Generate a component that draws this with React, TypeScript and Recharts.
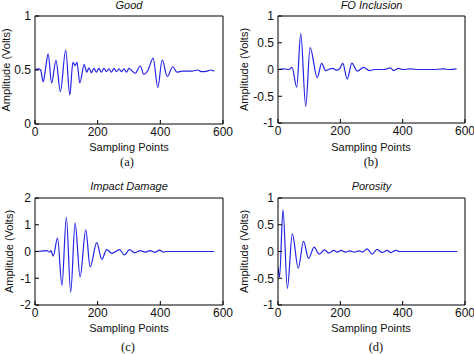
import React from 'react';
import { LineChart, Line, XAxis, YAxis } from 'recharts';

// ---------- data ----------
const goodSamples = [0, 10, 18, 26, 34, 42, 53, 67, 81, 98, 111, 121, 128, 134, 143, 157, 165, 172, 180, 188, 196, 204, 212, 220, 228, 236, 244, 252, 260, 268, 276, 284, 292, 300, 310, 320, 336, 347, 361, 377, 392, 406, 422, 440, 453, 470, 500, 520, 530, 550, 560, 572];
const goodAmplitude = [0.5, 0.51, 0.5, 0.39, 0.52, 0.65, 0.38, 0.59, 0.3, 0.685, 0.27, 0.57, 0.54, 0.57, 0.38, 0.55, 0.48, 0.52, 0.475, 0.515, 0.48, 0.515, 0.48, 0.515, 0.485, 0.51, 0.48, 0.515, 0.485, 0.51, 0.485, 0.51, 0.48, 0.515, 0.49, 0.47, 0.537, 0.46, 0.5, 0.61, 0.34, 0.595, 0.44, 0.53, 0.48, 0.49, 0.49, 0.5, 0.485, 0.49, 0.5, 0.49];

const foSamples = [0, 20, 35, 45, 60, 73, 89, 103, 126, 140, 153, 166, 176, 187, 197, 208, 222, 237, 254, 275, 293, 310, 340, 360, 371, 387, 400, 424, 450, 500, 531, 550, 573];
const foAmplitude = [0, 0.01, 0, 0.04, -0.33, 0.67, -0.69, 0.41, -0.15, 0.115, -0.02, 0.01, 0.02, -0.01, 0.01, 0.115, -0.18, 0.12, -0.03, 0.04, -0.02, 0, 0, 0.03, -0.02, 0.02, 0, 0.01, 0, 0, 0.01, 0, 0.01];

const impactSamples = [0, 15, 25, 37, 46, 51, 58, 72, 86, 100, 114, 128, 144, 162, 176, 197, 213, 229, 245, 270, 285, 302, 318, 336, 352, 368, 383, 397, 409, 420, 500, 572];
const impactAmplitude = [0, 0.01, 0.02, 0.03, -0.02, 0.03, -0.17, 0.5, -1.27, 1.28, -1.52, 1.07, -0.95, 0.81, -0.58, 0.33, -0.29, 0.07, -0.07, 0.07, -0.13, 0.07, -0.05, 0.03, -0.02, 0.03, -0.03, 0.05, -0.02, 0, 0, 0];

const porositySamples = [0, 5, 16, 30, 46, 65, 82, 98, 116, 132, 149, 163, 179, 190, 203, 216, 230, 245, 260, 272, 286, 302, 318, 334, 350, 362, 378, 390, 450, 575];
const porosityAmplitude = [-0.3, -0.48, 0.78, -0.69, 0.33, -0.31, 0.19, -0.13, 0.08, -0.05, 0.03, -0.03, 0.02, -0.01, 0.02, -0.01, 0.01, -0.01, 0.01, -0.01, 0.05, -0.05, 0.04, -0.02, 0.02, -0.02, 0.02, 0, 0, 0];

const xTicks = [0, 200, 400, 600];
const goodTicks = [0, 0.5, 1];
const foTicks = [-1, -0.5, 0, 0.5, 1];
const impactTicks = [-2, -1, 0, 1, 2];
const porosityTicks = [-1, -0.5, 0, 0.5, 1];

const titles = ['Good', 'FO Inclusion', 'Impact Damage', 'Porosity'];
const captions = ['(a)', '(b)', '(c)', '(d)'];
const xLabel = 'Sampling Points';
const yLabel = 'Amplitude (Volts)';

// ---------- layout ----------
const SANS = '"Liberation Sans", Arial, sans-serif';
const SERIF = '"Liberation Serif", "Times New Roman", serif';
const LINE = '#2424e6';
const CW = 237;
const CH = 177;
const XH = 20;
const YW = 30;

type Panel = {
  samples: number[];
  values: number[];
  yTicks: number[];
  ox: number; oy: number;
  l: number; r: number; t: number; b: number;
  title: [number, number];
  xl: [number, number];
  cap: [number, number];
  yl: [number, number];
};

const panels: Panel[] = [
  { samples: goodSamples, values: goodAmplitude, yTicks: goodTicks, ox: 0, oy: 0, l: 35, r: 223, t: 16, b: 124, title: [129, 8.5], xl: [129, 150.5], cap: [127, 166], yl: [9.5, 70] },
  { samples: foSamples, values: foAmplitude, yTicks: foTicks, ox: 237, oy: 0, l: 278, r: 465, t: 16, b: 123, title: [371.5, 8.5], xl: [371, 150.5], cap: [371, 166], yl: [248, 69.5] },
  { samples: impactSamples, values: impactAmplitude, yTicks: impactTicks, ox: 0, oy: 177, l: 35, r: 223, t: 198, b: 305, title: [129, 189.5], xl: [129, 331.5], cap: [128, 351], yl: [12.5, 251.5] },
  { samples: porositySamples, values: porosityAmplitude, yTicks: porosityTicks, ox: 237, oy: 177, l: 278, r: 465, t: 198, b: 305, title: [371.5, 189.5], xl: [371, 331.5], cap: [376, 351], yl: [248, 251.5] },
];

const tickStyle = { fontSize: 12, fontFamily: SANS, fill: '#111' };

function PanelChart({ p }: { p: Panel }) {
  const data = p.samples.map((s, i) => ({ x: s, y: p.values[i] }));
  const yDomain: [number, number] = [p.yTicks[0], p.yTicks[p.yTicks.length - 1]];
  const margin = {
    top: p.t - p.oy - 1,
    right: p.ox + CW - p.r - 1,
    bottom: p.oy + CH - p.b - XH,
    left: p.l - p.ox - YW,
  };
  return (
    <div style={{ position: 'absolute', left: p.ox, top: p.oy, width: CW, height: CH }}>
      <LineChart width={CW} height={CH} data={data} margin={margin}>
        <XAxis xAxisId="b" dataKey="x" type="number" domain={[0, 600]} ticks={xTicks} allowDataOverflow
          orientation="bottom" height={XH} tickSize={-4} tickMargin={7} tick={tickStyle}
          stroke="#000" tickLine={{ stroke: '#000' }} interval={0} />
        <XAxis xAxisId="t" dataKey="x" type="number" domain={[0, 600]} ticks={xTicks} allowDataOverflow
          orientation="top" height={1} tickSize={-4} tick={false} stroke="#000" tickLine={{ stroke: '#000' }} interval={0} />
        <YAxis yAxisId="l" type="number" domain={yDomain} ticks={p.yTicks} allowDataOverflow
          orientation="left" width={YW} tickSize={-4} tickMargin={8} tick={tickStyle}
          stroke="#000" tickLine={{ stroke: '#000' }} interval={0} />
        <YAxis yAxisId="r" type="number" domain={yDomain} ticks={p.yTicks} allowDataOverflow
          orientation="right" width={1} tickSize={-4} tick={false} stroke="#000" tickLine={{ stroke: '#000' }} interval={0} />
        <Line xAxisId="b" yAxisId="l" dataKey="y" type="monotone" stroke={LINE} strokeWidth={1.2}
          dot={false} isAnimationActive={false} />
      </LineChart>
    </div>
  );
}

export default function App() {
  return (
    <div style={{ position: 'absolute', left: 0, top: 0, width: 474, height: 354, background: '#fff', overflow: 'hidden' }}>
      {panels.map((p, i) => <PanelChart key={i} p={p} />)}
      <svg width={474} height={354} style={{ position: 'absolute', left: 0, top: 0, pointerEvents: 'none' }}>
        {panels.map((p, i) => (
          <g key={i} fill="#111">
            <text x={p.title[0]} y={p.title[1]} textAnchor="middle" fontSize={11} fontStyle="italic" fontFamily={SANS}>{titles[i]}</text>
            <text x={p.xl[0]} y={p.xl[1]} textAnchor="middle" fontSize={11} fontFamily={SANS}>{xLabel}</text>
            <text x={p.cap[0]} y={p.cap[1]} textAnchor="middle" fontSize={12.5} fontFamily={SERIF}>{captions[i]}</text>
            <text x={p.yl[0]} y={p.yl[1]} textAnchor="middle" fontSize={11} fontFamily={SANS}
              transform={`rotate(-90 ${p.yl[0]} ${p.yl[1]})`}>{yLabel}</text>
          </g>
        ))}
      </svg>
    </div>
  );
}
